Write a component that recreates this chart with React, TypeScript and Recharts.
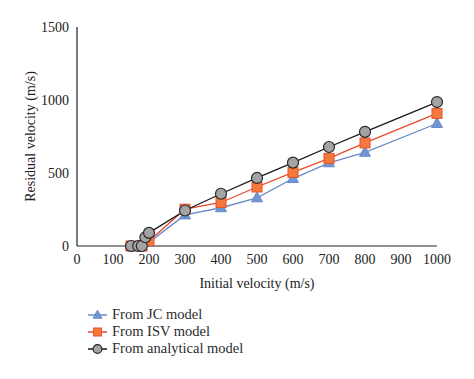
import React from "react";
import { LineChart, Line, XAxis, YAxis, Legend } from "recharts";

const X_TICKS = [0, 100, 200, 300, 400, 500, 600, 700, 800, 900, 1000];
const Y_TICKS = [0, 500, 1000, 1500];

const JC_X = [150, 180, 200, 300, 400, 500, 600, 700, 800, 1000];
const JC_Y = [0, 0, 25, 213, 262, 330, 462, 570, 642, 839];
const ISV_X = [150, 180, 200, 300, 400, 500, 600, 700, 800, 1000];
const ISV_Y = [0, 0, 35, 252, 298, 404, 504, 600, 706, 908];
const AN_X = [150, 170, 180, 190, 200, 300, 400, 500, 600, 700, 800, 1000];
const AN_Y = [0, 0, 0, 60, 90, 243, 358, 466, 571, 678, 782, 986];

const SERIES = [
  { name: "From JC model", color: "#6a8bc8", fill: "#6f95d2", stroke: "#6a8bc8", shape: "triangle" },
  { name: "From ISV model", color: "#ea4a2c", fill: "#f47a3c", stroke: "#e8502e", shape: "square" },
  { name: "From analytical model", color: "#1a1a1a", fill: "#a3a3a3", stroke: "#2a2a2a", shape: "circle" },
];

const toRows = (xs: number[], ys: number[]) => xs.map((v, i) => ({ v, r: ys[i] }));
const DATA = [toRows(JC_X, JC_Y), toRows(ISV_X, ISV_Y), toRows(AN_X, AN_Y)];

const FONT = "'Liberation Serif', 'Times New Roman', serif";

function Marker({ cx, cy, shape, fill, stroke, k = 1 }: any) {
  if (cx == null || cy == null) return null;
  if (shape === "triangle") {
    return <path d={`M${cx},${cy - 6 * k} L${cx + 5.5 * k},${cy + 4 * k} L${cx - 5.5 * k},${cy + 4 * k} Z`} fill={fill} stroke={stroke} strokeWidth={1} />;
  }
  if (shape === "square") {
    return <rect x={cx - 5 * k} y={cy - 5 * k} width={10 * k} height={10 * k} fill={fill} stroke={stroke} strokeWidth={1} />;
  }
  return <circle cx={cx} cy={cy} r={5.5 * k} fill={fill} stroke={stroke} strokeWidth={1.2} />;
}

function LegendBox() {
  return (
    <div style={{ paddingLeft: 87, fontFamily: FONT, fontSize: 14.5, color: "#2b2b2b" }}>
      {SERIES.map((s) => (
        <div key={s.name} style={{ display: "flex", alignItems: "center", height: 17 }}>
          <svg width={22} height={14} style={{ marginRight: 3 }}>
            <line x1={1} y1={7} x2={20} y2={7} stroke={s.color} strokeWidth={1.5} />
            <Marker cx={10.5} cy={7} shape={s.shape} fill={s.fill} stroke={s.stroke} k={0.8} />
          </svg>
          <span>{s.name}</span>
        </div>
      ))}
    </div>
  );
}

export default function App() {
  return (
    <div style={{ position: "absolute", left: 0, top: 0, width: 474, height: 379, background: "#fff" }}>
      <LineChart width={474} height={379} margin={{ top: 27, right: 37, left: 0, bottom: 22 }}>
        <XAxis
          type="number"
          dataKey="v"
          domain={[0, 1000]}
          ticks={X_TICKS}
          tickLine={false}
          axisLine={{ stroke: "#222", strokeWidth: 1.2 }}
          tick={{ fill: "#222", fontSize: 14, fontFamily: FONT }}
          height={60}
          label={{ value: "Initial velocity (m/s)", position: "insideBottom", offset: 18, fill: "#222", fontSize: 14, fontFamily: FONT }}
        />
        <YAxis
          type="number"
          domain={[0, 1500]}
          ticks={Y_TICKS}
          tickLine={false}
          axisLine={{ stroke: "#222", strokeWidth: 1.2 }}
          tick={{ fill: "#222", fontSize: 14, fontFamily: FONT }}
          width={77}
          label={{ value: "Residual velocity (m/s)", angle: -90, position: "insideLeft", offset: 30, style: { textAnchor: "middle" }, fill: "#222", fontSize: 14, fontFamily: FONT }}
        />
        <Legend verticalAlign="bottom" align="left" content={() => <LegendBox />} />
        {SERIES.map((s, i) => (
          <Line
            key={s.name}
            data={DATA[i]}
            dataKey="r"
            name={s.name}
            stroke={s.color}
            strokeWidth={1.3}
            isAnimationActive={false}
            dot={(p: any) => <Marker key={p.index} cx={p.cx} cy={p.cy} shape={s.shape} fill={s.fill} stroke={s.stroke} />}
          />
        ))}
      </LineChart>
    </div>
  );
}
